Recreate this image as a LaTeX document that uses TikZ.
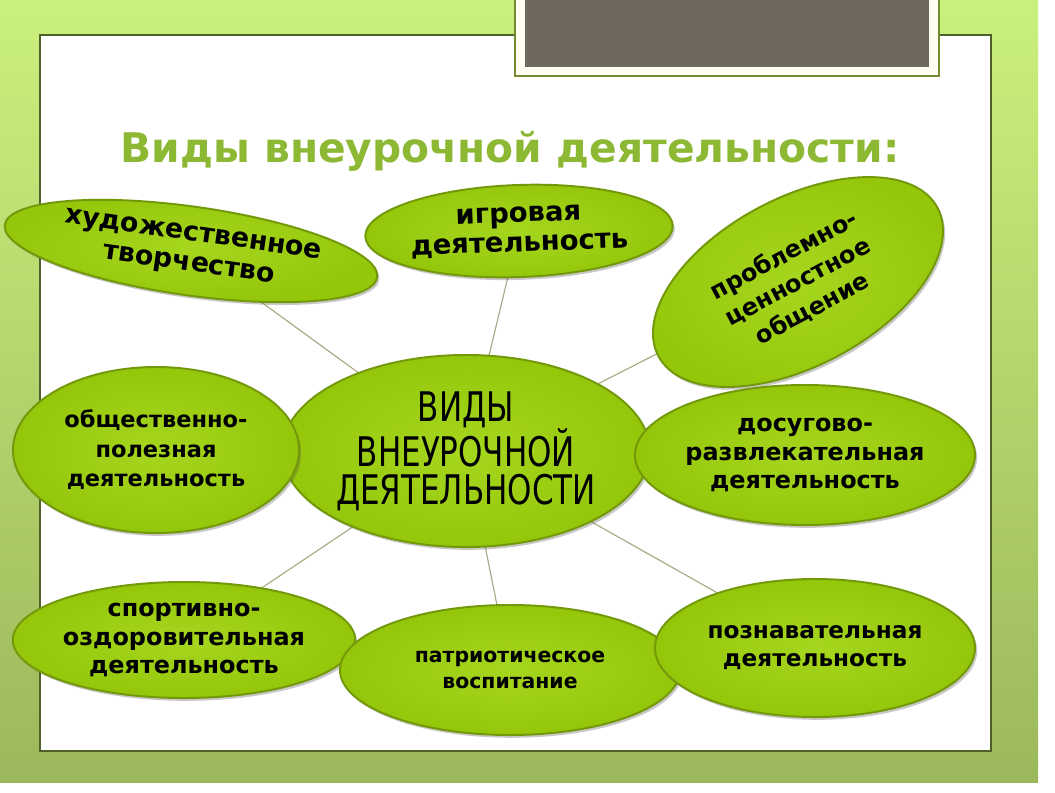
\documentclass[tikz,border=0pt]{standalone}
\usepackage{fontspec}
\setmainfont{DejaVu Sans}
\newfontfamily\hubfont{DejaVu Sans}[FakeStretch=0.76]
\newfontfamily\titlefont{DejaVu Sans Bold}
\usepackage{tikz}
\usetikzlibrary{calc}
\usetikzlibrary{shapes}
\usetikzlibrary{shadows}

\definecolor{bgtop}{rgb}{0.79,0.94,0.49}
\definecolor{bgbot}{rgb}{0.61,0.72,0.36}
\definecolor{framecol}{rgb}{0.31,0.38,0.16}
\definecolor{capcol}{rgb}{0.43,0.41,0.36}
\definecolor{caprim}{rgb}{0.45,0.55,0.2}
\definecolor{titlecol}{rgb}{0.55,0.72,0.2}
\definecolor{leafcol}{rgb}{0.58,0.78,0.04}
\definecolor{leaflight}{rgb}{0.65,0.84,0.12}
\definecolor{leafrim}{rgb}{0.45,0.6,0.04}
\definecolor{linkcol}{rgb}{0.66,0.66,0.52}

\pgfdeclarelayer{back}
\pgfdeclarelayer{links}
\pgfsetlayers{back,links,main}

\tikzset{
    leaf/.style={ellipse, inner sep=0pt, align=center, text=black,
        draw=leafrim, line width=1.4pt, inner color=leaflight, outer color=leafcol,
        drop shadow={shadow xshift=1.5pt, shadow yshift=-2pt, opacity=0.3, fill=black!70}},
    link/.style={draw=linkcol, line width=0.8pt},
}

\begin{document}
\begin{tikzpicture}[x=0.025cm,y=-0.025cm,line join=bevel]
    \useasboundingbox (0,0) rectangle (1055,792);
    %% slide
    \begin{pgfonlayer}{back}
        \fill[white] (0,0) rectangle (1055,792);
        \shade[top color=bgtop, bottom color=bgbot] (0,0) rectangle (1038,782);
        \draw[framecol, line width=1.2pt, fill=white] (40,35) rectangle (991,751);
        \draw[caprim, line width=1.2pt, fill=white!94!yellow] (515,-5) rectangle (939,76);
        \fill[capcol] (525,-5) rectangle (929,67);
    \end{pgfonlayer}
    % Title
    \node[anchor=base, text=titlecol, font=\titlefont\fontsize{29}{34}\selectfont] (title) at (510,162) {Виды внеурочной деятельности:};
    % Node: hub
    \node[leaf, minimum width=9.15cm, minimum height=4.8cm, font=\hubfont\fontsize{29}{26.5}\selectfont] (hub) at (466,451) {ВИДЫ\\ВНЕУРОЧНОЙ\\ДЕЯТЕЛЬНОСТИ};
    % Node: art
    \node[leaf, minimum width=9.4cm, minimum height=2.22cm, rotate=-8, font=\bfseries\fontsize{19}{21.5}\selectfont] (art) at (191,251) {художественное\\творчество};
    % Node: game
    \node[leaf, minimum width=7.55cm, minimum height=2.3cm, rotate=2, font=\bfseries\fontsize{19.5}{21}\selectfont] (game) at (519,231) {игровая\\деятельность};
    % Node: talk
    \node[leaf, minimum width=7.9cm, minimum height=4.2cm, rotate=28, font=\bfseries\fontsize{17}{21.5}\selectfont] (talk) at (798,282) {проблемно-\\ценностное\\общение};
    % Node: social
    \node[leaf, minimum width=7.15cm, minimum height=4.15cm, font=\bfseries\fontsize{16}{21}\selectfont] (social) at (156,450) {общественно-\\полезная\\деятельность};
    % Node: leisure
    \node[leaf, minimum width=8.5cm, minimum height=3.5cm, font=\bfseries\fontsize{17}{20.5}\selectfont] (leisure) at (805,455) {досугово-\\развлекательная\\деятельность};
    % Node: sport
    \node[leaf, minimum width=8.45cm, minimum height=2.9cm, font=\bfseries\fontsize{17}{20.3}\selectfont] (sport) at (184,640) {спортивно-\\оздоровительная\\деятельность};
    % Node: patriot
    \node[leaf, minimum width=8.5cm, minimum height=3.25cm, font=\bfseries\fontsize{14.5}{18.5}\selectfont] (patriot) at (510,670) {патриотическое\\воспитание};
    % Node: mind
    \node[leaf, minimum width=8cm, minimum height=3.45cm, font=\bfseries\fontsize{16.5}{20}\selectfont] (mind) at (815,648) {познавательная\\деятельность};
    %% connectors
    \begin{pgfonlayer}{links}
        % Edge: hub -- art
        \draw[link] (hub.center) -- (art.center);
        % Edge: hub -- game
        \draw[link] (hub.center) -- (game.center);
        % Edge: hub -- talk
        \draw[link] (hub.center) -- (talk.center);
        % Edge: hub -- social
        \draw[link] (hub.center) -- (social.center);
        % Edge: hub -- leisure
        \draw[link] (hub.center) -- (leisure.center);
        % Edge: hub -- sport
        \draw[link] (hub.center) -- (sport.center);
        % Edge: hub -- patriot
        \draw[link] (hub.center) -- (patriot.center);
        % Edge: hub -- mind
        \draw[link] (hub.center) -- (mind.center);
    \end{pgfonlayer}
\end{tikzpicture}
\end{document}
